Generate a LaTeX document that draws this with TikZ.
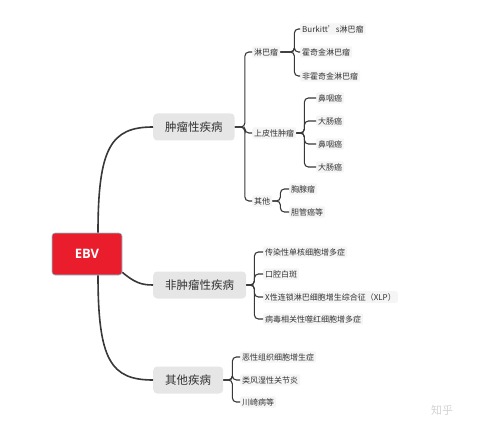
\documentclass[tikz,border=0pt]{standalone}
\usepackage{fontspec}
\setmainfont{Noto Sans CJK SC}
\newfontfamily\ebvfont{Open Sans}

\definecolor{ebvred}{HTML}{EA1D2C}
\definecolor{ebvcyan}{HTML}{7CCFD8}
\definecolor{topicgray}{HTML}{E6E6E6}
\definecolor{leafgray}{HTML}{F5F5F5}
\definecolor{linegray}{HTML}{383838}
\definecolor{textgray}{HTML}{333333}

\tikzset{
  root/.style={rectangle,rounded corners=3pt,fill=ebvred,draw=ebvcyan,
    line width=0.6pt,minimum width=70pt,minimum height=42pt,text=white,
    font=\ebvfont\bfseries\fontsize{13}{15}\selectfont},
  topic/.style={rectangle,rounded corners=4pt,fill=topicgray,anchor=west,
    inner xsep=12pt,minimum height=27pt,text=textgray,
    font=\fontsize{11.5}{13}\selectfont},
  sub/.style={rectangle,rounded corners=2pt,fill=leafgray,anchor=west,
    inner sep=2pt,text=textgray,font=\fontsize{8}{10}\selectfont},
  trunk/.style={draw=linegray,line width=1.6pt},
  branch/.style={draw=linegray,line width=1.1pt,rounded corners=4pt}
}

\begin{document}
\begin{tikzpicture}[x=1pt,y=-1pt]
  \useasboundingbox (0,0) rectangle (488,428);

  \node [root] (ebv) at (87,254) {EBV};

  \node [topic] (t1) at (153,127) {肿瘤性疾病};
  \node [topic] (t2) at (153,285) {非肿瘤性疾病};
  \node [topic] (t3) at (153,380) {其他疾病};

  \draw [trunk] ([xshift=11pt]ebv.north) .. controls +(0,-85) and +(-42,0) .. (t1.west);
  \draw [trunk] ([yshift=3pt]ebv.south east) .. controls +(12,10) and +(-12,0) .. (t2.west);
  \draw [trunk] ([xshift=11pt]ebv.south) .. controls +(0,85) and +(-42,0) .. (t3.west);

  % tumours
  \node [sub] (lym) at (252,52) {淋巴瘤};
  \node [sub] (epi) at (252,133) {上皮性肿瘤};
  \node [sub] (oth) at (252,201) {其他};
  \foreach \n in {lym,epi,oth}
    \draw [branch] (t1.east) -- ++(10,0) |- (\n.west);

  \node [sub] (lym1) at (300,29) {Burkitt’s淋巴瘤};
  \node [sub] (lym2) at (300,52) {霍奇金淋巴瘤};
  \node [sub] (lym3) at (300,76) {非霍奇金淋巴瘤};
  \foreach \n in {lym1,lym2,lym3}
    \draw [branch] (lym.east) -- ++(14,0) |- (\n.west);

  \node [sub] (epi1) at (316,98) {鼻咽癌};
  \node [sub] (epi2) at (316,121) {大肠癌};
  \node [sub] (epi3) at (316,144) {鼻咽癌};
  \node [sub] (epi4) at (316,167) {大肠癌};
  \foreach \n in {epi1,epi2,epi3,epi4}
    \draw [branch] (epi.east) -- ++(8,0) |- (\n.west);

  \node [sub] (oth1) at (289,189) {胸腺瘤};
  \node [sub] (oth2) at (289,212) {胆管癌等};
  \foreach \n in {oth1,oth2}
    \draw [branch] (oth.east) -- ++(8,0) |- (\n.west);

  % non-tumours
  \node [sub] (non1) at (263,252) {传染性单核细胞增多症};
  \node [sub] (non2) at (263,274) {口腔白斑};
  \node [sub] (non3) at (263,297) {X性连锁淋巴细胞增生综合征（XLP）};
  \node [sub] (non4) at (263,319) {病毒相关性噬红细胞增多症};
  \foreach \n in {non1,non2,non3,non4}
    \draw [branch] (t2.east) -- ++(8,0) |- (\n.west);

  % others
  \node [sub] (dis1) at (240,357) {恶性组织细胞增生症};
  \node [sub] (dis2) at (240,380) {类风湿性关节炎};
  \node [sub] (dis3) at (240,402) {川崎病等};
  \foreach \n in {dis1,dis2,dis3}
    \draw [branch] (t3.east) -- ++(9,0) |- (\n.west);

  \node [text=gray!35,font=\fontsize{11}{12}\selectfont] (zhihu) at (442,410) {知乎};
\end{tikzpicture}
\end{document}
